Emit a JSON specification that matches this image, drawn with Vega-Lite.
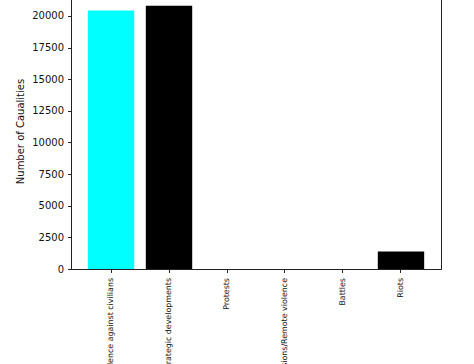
{
  "$schema": "https://vega.github.io/schema/vega-lite/v6.json",
  "autosize": {"type": "none"},
  "padding": {"left": 71, "top": -7, "right": 33, "bottom": 95},
  "width": 370,
  "height": 276,
  "background": "white",
  "config": {
    "font": "DejaVu Sans",
    "view": {"stroke": "#222222", "strokeWidth": 1}
  },
  "data": {
    "values": [
      {"event_type": "Violence against civilians", "casualties": 20430},
      {"event_type": "Strategic developments", "casualties": 20800},
      {"event_type": "Protests", "casualties": 0},
      {"event_type": "Explosions/Remote violence", "casualties": 0},
      {"event_type": "Battles", "casualties": 0},
      {"event_type": "Riots", "casualties": 1380}
    ]
  },
  "mark": {"type": "bar"},
  "encoding": {
    "x": {
      "field": "event_type",
      "type": "nominal",
      "sort": null,
      "scale": {"paddingInner": 0.2, "paddingOuter": 0.29},
      "axis": {
        "title": null,
        "labelAngle": -90,
        "labelFontSize": 7.9,
        "labelColor": "#111111",
        "labelPadding": 5,
        "tickSize": 3.5,
        "tickColor": "#222222",
        "domainColor": "#222222",
        "grid": false
      }
    },
    "y": {
      "field": "casualties",
      "type": "quantitative",
      "scale": {"domain": [0, 21808], "nice": false},
      "axis": {
        "title": "Number of Caualities",
        "titleFontSize": 10,
        "titleFontWeight": "normal",
        "titleColor": "#111111",
        "titlePadding": 6,
        "values": [0, 2500, 5000, 7500, 10000, 12500, 15000, 17500, 20000],
        "format": "d",
        "labelFontSize": 10,
        "labelColor": "#111111",
        "labelPadding": 4,
        "tickSize": 3.5,
        "tickColor": "#222222",
        "domainColor": "#222222",
        "grid": false
      }
    },
    "color": {
      "field": "event_type",
      "type": "nominal",
      "sort": null,
      "scale": {
        "domain": ["Violence against civilians", "Strategic developments", "Protests", "Explosions/Remote violence", "Battles", "Riots"],
        "range": ["#00ffff", "#000000", "#00ffff", "#000000", "#00ffff", "#000000"]
      },
      "legend": null
    }
  }
}
